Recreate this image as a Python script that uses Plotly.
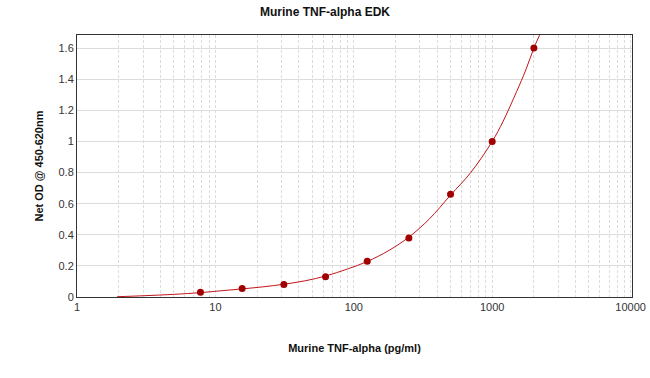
import plotly.graph_objects as go

# Standards (pg/ml) and measured net OD
conc = [7.8, 15.6, 31.25, 62.5, 125, 250, 500, 1000, 2000]
od = [0.03, 0.055, 0.08, 0.13, 0.23, 0.38, 0.66, 1.0, 1.6]

# Fitted curve, points
curve_x = [1.95, 3, 5, 7.8, 11, 15.6, 22, 31.25, 45, 62.5, 90, 125, 180, 250, 350, 500, 700, 1000, 1200, 1500, 1750, 2000, 2300]
curve_y = [0.002, 0.008, 0.017, 0.028, 0.04, 0.052, 0.065, 0.082, 0.105, 0.135, 0.18, 0.228, 0.3, 0.385, 0.5, 0.655, 0.8, 1.0, 1.13, 1.32, 1.46, 1.6, 1.72]

y_ticks = [0, 0.2, 0.4, 0.6, 0.8, 1, 1.2, 1.4, 1.6]
y_labels = ["0", "0.2", "0.4", "0.6", "0.8", "1", "1.2", "1.4", "1.6"]
x_ticks = [1, 10, 100, 1000, 10000]
x_labels = ["1", "10", "100", "1000", "10000"]

fig = go.Figure()
fig.add_trace(go.Scatter(x=curve_x, y=curve_y, mode="lines",
                         line=dict(color="#c0161b", width=1, shape="spline"),
                         hoverinfo="skip", showlegend=False))
fig.add_trace(go.Scatter(x=conc, y=od, mode="markers",
                         marker=dict(color="#a00000", size=7),
                         showlegend=False))

W, H = 650, 378
fnt = "Liberation Sans, Arial, sans-serif"
fig.update_layout(
    width=W, height=H,
    margin=dict(l=77, r=18, t=35, b=81, autoexpand=False),
    paper_bgcolor="white", plot_bgcolor="white",
    font=dict(family=fnt, size=11, color="#333333"),
    title=dict(text="<b>Murine TNF-alpha EDK</b>", x=0.5, xanchor="center",
               y=1 - 12/H, yanchor="middle", font=dict(size=12, color="#111111"),
               automargin=False),
)
fig.update_xaxes(
    type="log", range=[0, 4.01], automargin=False,
    tickvals=x_ticks, ticktext=x_labels,
    showgrid=True, gridcolor="#dcdcdc", griddash="3px,2px", gridwidth=1,
    minor=dict(dtick="D1", showgrid=True, gridcolor="#dcdcdc", griddash="3px,2px", gridwidth=1),
    showline=True, linecolor="#333333", linewidth=1, mirror=True,
    ticks="", zeroline=False,
    title=dict(text="<b>Murine TNF-alpha (pg/ml)</b>", font=dict(size=11, color="#111111"), standoff=32),
)
fig.update_yaxes(
    range=[0, 1.684], automargin=False,
    tickvals=y_ticks, ticktext=y_labels,
    showgrid=True, gridcolor="#dcdcdc", gridwidth=1,
    showline=True, linecolor="#333333", linewidth=1, mirror=True,
    ticks="", zeroline=False,
    title=dict(text="<b>Net OD @ 450-620nm</b>", font=dict(size=11, color="#111111"), standoff=12),
)
fig.write_html("out.html", config={"displayModeBar": False},
               post_script="document.body.style.margin='0px';")
